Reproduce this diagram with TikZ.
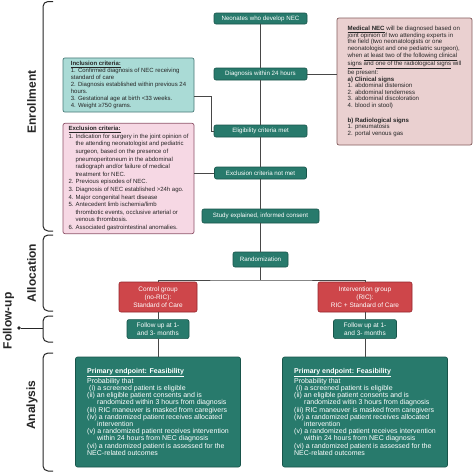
\documentclass[tikz,border=0pt]{standalone}
\usepackage{fontspec}
\setmainfont{Liberation Sans}
\usepackage{xcolor}
\usepackage{tikz}
\usetikzlibrary{positioning}
\definecolor{trTeal}{RGB}{40,122,108}
\definecolor{trTealDk}{RGB}{24,84,74}
\definecolor{trRed}{RGB}{206,70,74}
\definecolor{trRedDk}{RGB}{148,38,44}
\definecolor{trIncl}{RGB}{170,219,214}
\definecolor{trInclDk}{RGB}{72,122,120}
\definecolor{trExcl}{RGB}{246,216,228}
\definecolor{trExclDk}{RGB}{142,82,104}
\definecolor{trMed}{RGB}{234,208,208}
\definecolor{trMedDk}{RGB}{132,92,92}
\definecolor{trLine}{RGB}{72,72,72}

\begin{document}
\begin{tikzpicture}[x=1pt, y=-1pt,
    node distance=7pt,
    stage/.style={draw=trTealDk, fill=trTeal, text=white, rounded corners=2pt,
      line width=0.6pt, inner sep=2pt, align=center, font=\fontsize{6.2}{7.4}\selectfont},
    group/.style={stage, draw=trRedDk, fill=trRed, font=\fontsize{6.5}{8.2}\selectfont},
    crit/.style={rounded corners=2pt, line width=0.7pt, align=left, inner sep=3pt,
      text=black!85, font=\fontsize{6}{7.1}\selectfont},
    endpt/.style={stage, align=left, font=\fontsize{7}{7.2}\selectfont,
      minimum width=165pt, minimum height=110pt},
    link/.style={draw=trLine, line width=0.8pt},
    brk/.style={draw=black!85, line width=1pt, rounded corners=5pt},
    phase/.style={rotate=90, font=\fontsize{12}{14}\selectfont\bfseries, text=black!85, inner sep=0pt}
  ]
    \fill[white] (0,0) rectangle (474,474);
    \useasboundingbox (0,0) rectangle (474,474);

    \node[stage, minimum width=93pt, minimum height=11pt] (neo) at (260.5,18.5) {Neonates who develop NEC};
    \node[stage, minimum width=93pt, minimum height=12pt] (diag) at (260.5,74) {Diagnosis within 24 hours};
    \node[stage, minimum width=93pt, minimum height=12pt] (elig) at (260.5,131) {Eligibility criteria met};
    \node[stage, minimum width=92pt, minimum height=12pt] (noexcl) at (260.5,173) {Exclusion criteria not met};
    \node[stage, minimum width=117pt, minimum height=14pt] (study) at (260.5,216) {Study explained, informed consent};
    \node[stage, minimum width=55pt, minimum height=15pt] (rand) at (260.5,259.5) {Randomization};

    \node[group, minimum width=78pt, minimum height=30pt] (ctrl) at (158,297) {Control group\\(no-RIC):\\Standard of Care};
    \node[group, minimum width=94pt, minimum height=30pt] (intv) at (365,297) {Intervention group\\(RIC):\\RIC + Standard of Care};
    \node[stage, font=\fontsize{6.5}{8}\selectfont, minimum width=62pt, minimum height=19pt, below=of ctrl] (fuL) {Follow up at 1-\\and 3- months};
    \node[stage, font=\fontsize{6.5}{8}\selectfont, minimum width=63pt, minimum height=19pt, below=of intv] (fuR) {Follow up at 1-\\and 3- months};

    \node[endpt] (anL) at (158,412) {\underline{\textbf{Primary endpoint: Feasibility}}\\
      Probability that\\
      \hspace*{2pt}(i) a screened patient is eligible\\
      (ii) an eligible patient consents and is\\
      \hspace*{10pt}randomized within 3 hours from diagnosis\\
      (iii) RIC maneuver is masked from caregivers\\
      (iv) a randomized patient receives allocated\\
      \hspace*{10pt}intervention\\
      (v) a randomized patient receives intervention\\
      \hspace*{10pt}within 24 hours from NEC diagnosis\\
      (vi) a randomized patient is assessed for the\\
      NEC-related outcomes};
    \node[endpt] (anR) at (365,412) {\underline{\textbf{Primary endpoint: Feasibility}}\\
      Probability that\\
      \hspace*{2pt}(i) a screened patient is eligible\\
      (ii) an eligible patient consents and is\\
      \hspace*{10pt}randomized witin 3 hours from diagnosis\\
      (iii) RIC maneuver is masked from caregivers\\
      (iv) a randomized patient receives allocated\\
      \hspace*{10pt}intervention\\
      (v) a randomized patient receives intervention\\
      \hspace*{10pt}within 24 hours from NEC diagnosis\\
      (vi) a randomized patient is assessed for the\\
      NEC-related outcomes};

    \node[crit, draw=trInclDk, fill=trIncl, minimum width=131pt, minimum height=54pt] (incl) at (128.5,85) {\underline{\textbf{Inclusion criteria:}}\\
      1. Confirmed diagnosis of NEC receiving\\
      standard of care\\
      2. Diagnosis established within previous 24\\
      hours.\\
      3. Gestational age at birth <33 weeks.\\
      4. Weight ≥750 grams.};
    \node[crit, draw=trExclDk, fill=trExcl, minimum width=131pt, minimum height=107pt, font=\fontsize{6}{7.6}\selectfont] (excl) at (128.5,178.5) {\underline{\textbf{Exclusion criteria:}}\\
      1. Indication for surgery in the joint opinion of\\
      \hspace*{7pt}the attending neonatologist and pediatric\\
      \hspace*{7pt}surgeon, based on the presence of\\
      \hspace*{7pt}pneumoperitoneum in the abdominal\\
      \hspace*{7pt}radiograph and/or failure of medical\\
      \hspace*{7pt}treatment for NEC.\\
      2. Previous episodes of NEC.\\
      3. Diagnosis of NEC established >24h ago.\\
      4. Major congenital heart disease\\
      5. Antecedent limb ischemia/limb\\
      \hspace*{7pt}thrombotic events, occlusive arterial or\\
      \hspace*{7pt}venous thrombosis.\\
      6. Associated gastrointestinal anomalies.};
    \node[crit, draw=trMedDk, fill=trMed, minimum width=135pt, minimum height=127pt, font=\fontsize{6.1}{6.6}\selectfont] (med) at (404.5,81.5) {\underline{\textbf{Medical NEC}} will be diagnosed based on\\
      joint opinion of two attending experts in\\
      the field (two neonatologists or one\\
      neonatologist and one pediatric surgeon),\\
      when \underline{at least two of the following clinical}\\
      \underline{signs} and \underline{one of the radiological signs} will\\
      be present:\\
      \textbf{a) Clinical signs}\\
      1. abdominal distension\\
      2. abdominal tenderness\\
      3. abdominal discoloration\\
      4. blood in stool)\\[8pt]
      \textbf{b) Radiological signs}\\
      1. pneumatosis\\
      2. portal venous gas};

    \draw[link] (neo) -- (diag) -- (elig) -- (noexcl) -- (study) -- (rand);
    \coordinate (split) at (260.5,280);
    \draw[link] (rand) -- (split);
    \draw[link] (ctrl) |- (split) -| (intv);
    \draw[link] (ctrl) -- (fuL) -- (anL);
    \draw[link] (intv) -- (fuR) -- (anR);
    \draw[link] (diag) -- (diag -| med.west);
    \coordinate (inclbend) at (211,96);
    \draw[link] ([yshift=-11pt]incl.east) -- (inclbend) |- (elig);
    \draw[link] (noexcl) -- (noexcl -| excl.east);

    \draw[brk] (53,1.5) -- (43,1.5) -- (43,231) -- (53,231);
    \draw[brk] (53,235) -- (43,235) -- (43,311) -- (53,311);
    \draw[brk] (53,316) -- (43,316) -- (43,342) -- (53,342);
    \draw[brk] (53,353) -- (43,353) -- (43,471) -- (53,471);
    \node[circle, fill=black!85, inner sep=1.3pt] (fudot) at (19,328) {};
    \coordinate (futip) at (43,328);
    \draw[brk] (fudot) -- (futip);

    \node[phase] (lbEnr) at (31.5,102) {Enrollment};
    \node[phase] (lbAll) at (31.5,273) {Allocation};
    \node[phase] (lbFol) at (8.5,321) {Follow-up};
    \node[phase] (lbAna) at (32,405) {Analysis};
  \end{tikzpicture}
\end{document}
